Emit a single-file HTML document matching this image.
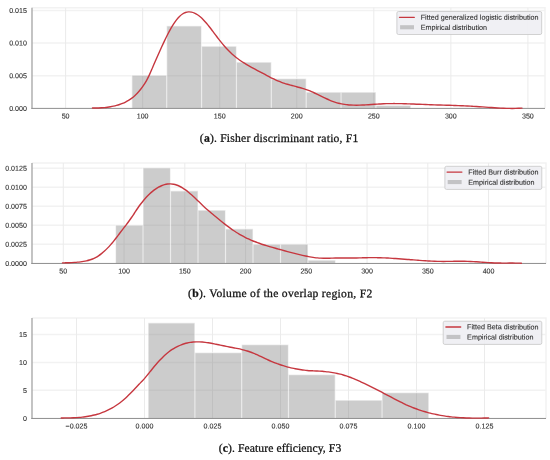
<!DOCTYPE html>
<html lang="en"><head><meta charset="utf-8"><title>Figure</title>
<style>html,body{margin:0;padding:0;background:#fff}body{width:550px;height:460px;overflow:hidden}svg{display:block}</style>
</head><body>
<svg width="550" height="460" viewBox="0 0 550 460" text-rendering="geometricPrecision">
<rect width="550" height="460" fill="#fff"/>
<path d="M31.90 10.50H545.00M31.90 43.05H545.00M31.90 75.65H545.00M31.90 7.80H545.00V108.35" stroke="#f2f2f2" stroke-width="1.5" fill="none"/>
<path d="M65.60 7.80V108.35M142.65 7.80V108.35M219.70 7.80V108.35M296.75 7.80V108.35M373.80 7.80V108.35M450.85 7.80V108.35M527.90 7.80V108.35" stroke="#ebebeb" stroke-width="1.0" fill="none"/>
<rect x="131.83" y="75.20" width="34.87" height="33.15" fill="#808080" fill-opacity="0.4"/>
<rect x="166.70" y="25.90" width="34.87" height="82.45" fill="#808080" fill-opacity="0.4"/>
<rect x="201.57" y="46.20" width="34.87" height="62.15" fill="#808080" fill-opacity="0.4"/>
<rect x="236.44" y="62.10" width="34.87" height="46.25" fill="#808080" fill-opacity="0.4"/>
<rect x="271.31" y="78.60" width="34.87" height="29.75" fill="#808080" fill-opacity="0.4"/>
<rect x="306.18" y="92.10" width="34.87" height="16.25" fill="#808080" fill-opacity="0.4"/>
<rect x="341.05" y="92.10" width="34.87" height="16.25" fill="#808080" fill-opacity="0.4"/>
<rect x="375.92" y="105.35" width="34.87" height="3.00" fill="#808080" fill-opacity="0.4"/>
<path d="M131.83 108.35V75.20h34.87V108.35M166.70 108.35V25.90h34.87V108.35M201.57 108.35V46.20h34.87V108.35M236.44 108.35V62.10h34.87V108.35M271.31 108.35V78.60h34.87V108.35M306.18 108.35V92.10h34.87V108.35M341.05 108.35V92.10h34.87V108.35M375.92 108.35V105.35h34.87V108.35" stroke="#fff" stroke-opacity="0.58" stroke-width="1.2" fill="none"/>
<path d="M32.00 7.80V108.85" stroke="#a4a4a4" stroke-width="1.3" fill="none"/>
<path d="M31.35 108.40H545.00" stroke="#8e8e8e" stroke-width="1.0" fill="none"/>
<path d="M92.50 108.02C93.00 108.01 94.50 108.02 95.50 108.01C96.50 108.00 97.50 107.98 98.50 107.95C99.50 107.92 100.50 107.87 101.50 107.81C102.50 107.75 103.50 107.68 104.50 107.58C105.50 107.49 106.50 107.38 107.50 107.25C108.50 107.11 109.50 106.96 110.50 106.79C111.50 106.61 112.50 106.41 113.50 106.19C114.50 105.96 115.50 105.71 116.50 105.43C117.50 105.15 118.50 104.85 119.50 104.50C120.50 104.16 121.50 103.80 122.50 103.39C123.50 102.97 124.50 102.53 125.50 102.03C126.50 101.52 127.50 100.98 128.50 100.37C129.50 99.75 130.50 99.09 131.50 98.35C132.50 97.60 133.50 96.80 134.50 95.91C135.50 95.02 136.50 94.05 137.50 92.99C138.50 91.93 139.50 90.79 140.50 89.54C141.50 88.28 142.50 86.95 143.50 85.45C144.50 83.95 145.50 82.35 146.50 80.56C147.50 78.76 148.50 76.80 149.50 74.66C150.50 72.52 151.50 70.05 152.50 67.72C153.50 65.39 154.50 62.99 155.50 60.69C156.50 58.39 157.50 56.15 158.50 53.92C159.50 51.69 160.50 49.48 161.50 47.31C162.50 45.13 163.50 42.97 164.50 40.88C165.50 38.79 166.50 36.73 167.50 34.77C168.50 32.82 169.50 30.92 170.50 29.15C171.50 27.38 172.50 25.69 173.50 24.15C174.50 22.60 175.50 21.16 176.50 19.88C177.50 18.60 178.50 17.45 179.50 16.48C180.50 15.50 181.50 14.69 182.50 14.03C183.50 13.37 184.50 12.88 185.50 12.53C186.50 12.18 187.50 11.98 188.50 11.91C189.50 11.85 190.50 11.92 191.50 12.12C192.50 12.32 193.50 12.65 194.50 13.09C195.50 13.53 196.50 14.10 197.50 14.76C198.50 15.42 199.50 16.21 200.50 17.07C201.50 17.94 202.50 18.92 203.50 19.96C204.50 21.00 205.50 22.14 206.50 23.31C207.50 24.48 208.50 25.73 209.50 27.00C210.50 28.27 211.50 29.59 212.50 30.90C213.50 32.22 214.50 33.57 215.50 34.90C216.50 36.22 217.50 37.56 218.50 38.85C219.50 40.14 220.50 41.42 221.50 42.64C222.50 43.87 223.50 45.05 224.50 46.20C225.50 47.34 226.50 48.45 227.50 49.51C228.50 50.57 229.50 51.58 230.50 52.55C231.50 53.52 232.50 54.44 233.50 55.31C234.50 56.18 235.50 57.00 236.50 57.78C237.50 58.56 238.50 59.28 239.50 59.98C240.50 60.67 241.50 61.33 242.50 61.97C243.50 62.61 244.50 63.21 245.50 63.82C246.50 64.42 247.50 65.00 248.50 65.58C249.50 66.15 250.50 66.71 251.50 67.27C252.50 67.82 253.50 68.37 254.50 68.91C255.50 69.45 256.50 69.98 257.50 70.51C258.50 71.05 259.50 71.57 260.50 72.10C261.50 72.63 262.50 73.15 263.50 73.68C264.50 74.21 265.50 74.75 266.50 75.28C267.50 75.81 268.50 76.35 269.50 76.87C270.50 77.39 271.50 77.92 272.50 78.42C273.50 78.92 274.50 79.42 275.50 79.88C276.50 80.35 277.50 80.80 278.50 81.22C279.50 81.64 280.50 82.03 281.50 82.39C282.50 82.76 283.50 83.08 284.50 83.40C285.50 83.71 286.50 84.00 287.50 84.29C288.50 84.57 289.50 84.84 290.50 85.11C291.50 85.38 292.50 85.64 293.50 85.91C294.50 86.17 295.50 86.44 296.50 86.71C297.50 86.98 298.50 87.25 299.50 87.54C300.50 87.83 301.50 88.12 302.50 88.43C303.50 88.74 304.50 89.05 305.50 89.40C306.50 89.74 307.50 90.09 308.50 90.47C309.50 90.85 310.50 91.25 311.50 91.68C312.50 92.10 313.50 92.55 314.50 93.01C315.50 93.47 316.50 93.94 317.50 94.42C318.50 94.90 319.50 95.39 320.50 95.88C321.50 96.37 322.50 96.86 323.50 97.34C324.50 97.82 325.50 98.30 326.50 98.75C327.50 99.21 328.50 99.67 329.50 100.09C330.50 100.52 331.50 100.93 332.50 101.30C333.50 101.68 334.50 102.03 335.50 102.35C336.50 102.67 337.50 102.95 338.50 103.21C339.50 103.47 340.50 103.69 341.50 103.89C342.50 104.09 343.50 104.26 344.50 104.41C345.50 104.55 346.50 104.68 347.50 104.78C348.50 104.88 349.50 104.96 350.50 105.02C351.50 105.09 352.50 105.13 353.50 105.16C354.50 105.19 355.50 105.20 356.50 105.20C357.50 105.20 358.50 105.19 359.50 105.17C360.50 105.14 361.50 105.11 362.50 105.07C363.50 105.03 364.50 104.97 365.50 104.92C366.50 104.86 367.50 104.80 368.50 104.73C369.50 104.67 370.50 104.60 371.50 104.53C372.50 104.46 373.50 104.39 374.50 104.32C375.50 104.25 376.50 104.18 377.50 104.11C378.50 104.05 379.50 103.99 380.50 103.93C381.50 103.87 382.50 103.82 383.50 103.78C384.50 103.74 385.50 103.70 386.50 103.67C387.50 103.65 388.50 103.62 389.50 103.61C390.50 103.59 391.50 103.58 392.50 103.58C393.50 103.57 394.50 103.57 395.50 103.58C396.50 103.58 397.50 103.59 398.50 103.61C399.50 103.62 400.50 103.64 401.50 103.66C402.50 103.68 403.50 103.71 404.50 103.74C405.50 103.77 406.50 103.80 407.50 103.83C408.50 103.86 409.50 103.90 410.50 103.94C411.50 103.97 412.50 104.01 413.50 104.05C414.50 104.09 415.50 104.13 416.50 104.18C417.50 104.22 418.50 104.26 419.50 104.30C420.50 104.34 421.50 104.38 422.50 104.42C423.50 104.46 424.50 104.50 425.50 104.54C426.50 104.58 427.50 104.62 428.50 104.65C429.50 104.69 430.50 104.72 431.50 104.76C432.50 104.79 433.50 104.82 434.50 104.85C435.50 104.89 436.50 104.92 437.50 104.95C438.50 104.98 439.50 105.01 440.50 105.04C441.50 105.07 442.50 105.10 443.50 105.13C444.50 105.17 445.50 105.20 446.50 105.23C447.50 105.26 448.50 105.29 449.50 105.32C450.50 105.36 451.50 105.39 452.50 105.42C453.50 105.46 454.50 105.49 455.50 105.53C456.50 105.56 457.50 105.60 458.50 105.64C459.50 105.67 460.50 105.71 461.50 105.75C462.50 105.79 463.50 105.84 464.50 105.88C465.50 105.92 466.50 105.97 467.50 106.02C468.50 106.07 469.50 106.12 470.50 106.17C471.50 106.22 472.50 106.28 473.50 106.33C474.50 106.39 475.50 106.45 476.50 106.51C477.50 106.57 478.50 106.64 479.50 106.71C480.50 106.77 481.50 106.84 482.50 106.92C483.50 106.99 484.50 107.06 485.50 107.13C486.50 107.21 487.50 107.28 488.50 107.35C489.50 107.42 490.50 107.50 491.50 107.57C492.50 107.64 493.50 107.71 494.50 107.77C495.50 107.84 496.50 107.90 497.50 107.96C498.50 108.02 499.50 108.07 500.50 108.12C501.50 108.17 502.50 108.22 503.50 108.26C504.50 108.30 505.50 108.33 506.50 108.36C507.50 108.39 508.50 108.41 509.50 108.42C510.50 108.43 511.50 108.44 512.50 108.43C513.50 108.43 514.50 108.41 515.50 108.39C516.50 108.37 517.50 108.33 518.50 108.29C519.50 108.24 520.92 108.15 521.50 108.12C522.08 108.09 521.92 108.09 522.00 108.09" stroke="#c6373f" stroke-width="1.4" fill="none" stroke-linecap="round" stroke-linejoin="round"/>
<g font-family="'Liberation Sans', Arial, sans-serif" font-size="7.10" fill="#2e2e2e" stroke="#2e2e2e" stroke-width="0.1">
<text x="26.9" y="13.05" transform="rotate(0.05 26.9 13.05)" text-anchor="end">0.015</text>
<text x="26.9" y="45.60" transform="rotate(0.05 26.9 45.60)" text-anchor="end">0.010</text>
<text x="26.9" y="78.20" transform="rotate(0.05 26.9 78.20)" text-anchor="end">0.005</text>
<text x="26.9" y="110.90" transform="rotate(0.05 26.9 110.90)" text-anchor="end">0.000</text>
<text x="65.60" y="118.50" transform="rotate(0.05 65.60 118.50)" text-anchor="middle">50</text>
<text x="142.65" y="118.50" transform="rotate(0.05 142.65 118.50)" text-anchor="middle">100</text>
<text x="219.70" y="118.50" transform="rotate(0.05 219.70 118.50)" text-anchor="middle">150</text>
<text x="296.75" y="118.50" transform="rotate(0.05 296.75 118.50)" text-anchor="middle">200</text>
<text x="373.80" y="118.50" transform="rotate(0.05 373.80 118.50)" text-anchor="middle">250</text>
<text x="450.85" y="118.50" transform="rotate(0.05 450.85 118.50)" text-anchor="middle">300</text>
<text x="527.90" y="118.50" transform="rotate(0.05 527.90 118.50)" text-anchor="middle">350</text>
</g>
<rect x="396.90" y="11.50" width="144.80" height="23.00" rx="1.6" fill="#eeeef3" fill-opacity="0.9" stroke="#cccccc" stroke-width="0.9"/>
<path d="M399.50 17.30h14.8" stroke="#c6373f" stroke-width="1.35" stroke-linecap="round"/>
<rect x="400.10" y="25.20" width="13.9" height="4.1" fill="#808080" fill-opacity="0.4"/>
<g font-family="'Liberation Sans', Arial, sans-serif" font-size="7.2" fill="#2e2e2e" stroke="#2e2e2e" stroke-width="0.1">
<text x="420.70" y="19.70" transform="rotate(0.05 480.70 19.70)">Fitted generalized logistic distribution</text>
<text x="420.70" y="29.90" transform="rotate(0.05 453.70 29.90)">Empirical distribution</text>
</g>
<text id="capa" x="279.05" y="141.90" text-anchor="middle" transform="rotate(0.04 279.05 141.90)" font-family="'Liberation Serif', 'Times New Roman', serif" font-size="11.6" fill="#141414" stroke="#141414" stroke-width="0.28" textLength="158.50" lengthAdjust="spacing">(<tspan font-weight="bold">a</tspan>). Fisher discriminant ratio, F1</text>
<path d="M31.90 168.25H546.00M31.90 187.25H546.00M31.90 206.25H546.00M31.90 225.25H546.00M31.90 244.25H546.00M31.90 163.00H546.00V263.40" stroke="#f2f2f2" stroke-width="1.5" fill="none"/>
<path d="M63.30 163.00V263.40M124.05 163.00V263.40M184.80 163.00V263.40M245.55 163.00V263.40M306.30 163.00V263.40M367.05 163.00V263.40M427.80 163.00V263.40M488.55 163.00V263.40" stroke="#ebebeb" stroke-width="1.0" fill="none"/>
<rect x="115.51" y="225.10" width="27.50" height="38.30" fill="#808080" fill-opacity="0.4"/>
<rect x="143.01" y="167.85" width="27.50" height="95.55" fill="#808080" fill-opacity="0.4"/>
<rect x="170.51" y="190.85" width="27.50" height="72.55" fill="#808080" fill-opacity="0.4"/>
<rect x="198.01" y="210.10" width="27.50" height="53.30" fill="#808080" fill-opacity="0.4"/>
<rect x="225.51" y="228.85" width="27.50" height="34.55" fill="#808080" fill-opacity="0.4"/>
<rect x="253.01" y="244.10" width="27.50" height="19.30" fill="#808080" fill-opacity="0.4"/>
<rect x="280.51" y="244.10" width="27.50" height="19.30" fill="#808080" fill-opacity="0.4"/>
<rect x="308.01" y="260.10" width="27.50" height="3.30" fill="#808080" fill-opacity="0.4"/>
<path d="M115.51 263.40V225.10h27.50V263.40M143.01 263.40V167.85h27.50V263.40M170.51 263.40V190.85h27.50V263.40M198.01 263.40V210.10h27.50V263.40M225.51 263.40V228.85h27.50V263.40M253.01 263.40V244.10h27.50V263.40M280.51 263.40V244.10h27.50V263.40M308.01 263.40V260.10h27.50V263.40" stroke="#fff" stroke-opacity="0.58" stroke-width="1.2" fill="none"/>
<path d="M32.00 163.00V263.90" stroke="#a4a4a4" stroke-width="1.3" fill="none"/>
<path d="M31.35 263.45H546.00" stroke="#8e8e8e" stroke-width="1.0" fill="none"/>
<path d="M62.50 262.91C63.00 262.90 64.50 262.85 65.50 262.82C66.50 262.78 67.50 262.76 68.50 262.72C69.50 262.68 70.50 262.64 71.50 262.59C72.50 262.54 73.50 262.49 74.50 262.42C75.50 262.35 76.50 262.27 77.50 262.17C78.50 262.08 79.50 261.97 80.50 261.84C81.50 261.71 82.50 261.56 83.50 261.39C84.50 261.22 85.50 261.03 86.50 260.81C87.50 260.58 88.50 260.34 89.50 260.03C90.50 259.73 91.50 259.40 92.50 258.99C93.50 258.58 94.50 258.13 95.50 257.60C96.50 257.06 97.50 256.46 98.50 255.80C99.50 255.13 100.50 254.40 101.50 253.61C102.50 252.81 103.50 251.96 104.50 251.04C105.50 250.13 106.50 249.16 107.50 248.13C108.50 247.10 109.50 246.02 110.50 244.89C111.50 243.76 112.50 242.57 113.50 241.34C114.50 240.11 115.50 238.82 116.50 237.52C117.50 236.22 118.50 234.86 119.50 233.54C120.50 232.23 121.50 230.93 122.50 229.63C123.50 228.33 124.50 227.06 125.50 225.76C126.50 224.45 127.50 223.15 128.50 221.77C129.50 220.40 130.50 218.97 131.50 217.51C132.50 216.05 133.50 214.51 134.50 213.01C135.50 211.51 136.50 209.98 137.50 208.52C138.50 207.06 139.50 205.62 140.50 204.28C141.50 202.93 142.50 201.66 143.50 200.45C144.50 199.25 145.50 198.12 146.50 197.05C147.50 195.98 148.50 194.98 149.50 194.04C150.50 193.09 151.50 192.21 152.50 191.39C153.50 190.57 154.50 189.81 155.50 189.11C156.50 188.42 157.50 187.79 158.50 187.22C159.50 186.66 160.50 186.17 161.50 185.74C162.50 185.32 163.50 184.96 164.50 184.68C165.50 184.40 166.50 184.19 167.50 184.06C168.50 183.93 169.50 183.87 170.50 183.89C171.50 183.91 172.50 184.01 173.50 184.19C174.50 184.38 175.50 184.64 176.50 184.99C177.50 185.33 178.50 185.76 179.50 186.25C180.50 186.73 181.50 187.30 182.50 187.92C183.50 188.53 184.50 189.22 185.50 189.94C186.50 190.66 187.50 191.44 188.50 192.26C189.50 193.07 190.50 193.93 191.50 194.81C192.50 195.69 193.50 196.61 194.50 197.54C195.50 198.48 196.50 199.44 197.50 200.40C198.50 201.36 199.50 202.34 200.50 203.30C201.50 204.26 202.50 205.22 203.50 206.16C204.50 207.09 205.50 208.01 206.50 208.91C207.50 209.80 208.50 210.66 209.50 211.52C210.50 212.38 211.50 213.21 212.50 214.05C213.50 214.89 214.50 215.71 215.50 216.54C216.50 217.36 217.50 218.19 218.50 219.01C219.50 219.83 220.50 220.65 221.50 221.46C222.50 222.27 223.50 223.07 224.50 223.85C225.50 224.64 226.50 225.42 227.50 226.18C228.50 226.93 229.50 227.68 230.50 228.40C231.50 229.12 232.50 229.83 233.50 230.51C234.50 231.18 235.50 231.84 236.50 232.47C237.50 233.10 238.50 233.70 239.50 234.29C240.50 234.87 241.50 235.43 242.50 235.97C243.50 236.51 244.50 237.02 245.50 237.52C246.50 238.02 247.50 238.49 248.50 238.95C249.50 239.41 250.50 239.85 251.50 240.28C252.50 240.71 253.50 241.12 254.50 241.51C255.50 241.91 256.50 242.29 257.50 242.66C258.50 243.02 259.50 243.38 260.50 243.72C261.50 244.07 262.50 244.40 263.50 244.73C264.50 245.05 265.50 245.37 266.50 245.67C267.50 245.98 268.50 246.28 269.50 246.58C270.50 246.87 271.50 247.16 272.50 247.44C273.50 247.73 274.50 248.01 275.50 248.29C276.50 248.57 277.50 248.84 278.50 249.12C279.50 249.39 280.50 249.67 281.50 249.94C282.50 250.22 283.50 250.49 284.50 250.76C285.50 251.04 286.50 251.31 287.50 251.58C288.50 251.85 289.50 252.12 290.50 252.38C291.50 252.65 292.50 252.91 293.50 253.17C294.50 253.43 295.50 253.69 296.50 253.94C297.50 254.19 298.50 254.43 299.50 254.67C300.50 254.91 301.50 255.15 302.50 255.38C303.50 255.60 304.50 255.82 305.50 256.03C306.50 256.24 307.50 256.44 308.50 256.63C309.50 256.82 310.50 256.99 311.50 257.15C312.50 257.31 313.50 257.46 314.50 257.59C315.50 257.72 316.50 257.83 317.50 257.92C318.50 258.01 319.50 258.09 320.50 258.14C321.50 258.19 322.50 258.22 323.50 258.24C324.50 258.26 325.50 258.25 326.50 258.25C327.50 258.24 328.50 258.22 329.50 258.19C330.50 258.17 331.50 258.13 332.50 258.10C333.50 258.07 334.50 258.04 335.50 258.01C336.50 257.99 337.50 257.96 338.50 257.95C339.50 257.94 340.50 257.94 341.50 257.94C342.50 257.95 343.50 257.97 344.50 257.99C345.50 258.00 346.50 258.03 347.50 258.04C348.50 258.06 349.50 258.07 350.50 258.07C351.50 258.08 352.50 258.07 353.50 258.06C354.50 258.04 355.50 258.02 356.50 258.00C357.50 257.97 358.50 257.94 359.50 257.91C360.50 257.89 361.50 257.85 362.50 257.82C363.50 257.79 364.50 257.76 365.50 257.73C366.50 257.71 367.50 257.68 368.50 257.66C369.50 257.65 370.50 257.63 371.50 257.63C372.50 257.62 373.50 257.63 374.50 257.63C375.50 257.64 376.50 257.66 377.50 257.68C378.50 257.70 379.50 257.72 380.50 257.75C381.50 257.78 382.50 257.82 383.50 257.86C384.50 257.90 385.50 257.95 386.50 257.99C387.50 258.04 388.50 258.10 389.50 258.15C390.50 258.21 391.50 258.27 392.50 258.33C393.50 258.40 394.50 258.46 395.50 258.53C396.50 258.60 397.50 258.67 398.50 258.75C399.50 258.82 400.50 258.89 401.50 258.97C402.50 259.05 403.50 259.13 404.50 259.20C405.50 259.28 406.50 259.36 407.50 259.44C408.50 259.52 409.50 259.60 410.50 259.68C411.50 259.76 412.50 259.84 413.50 259.92C414.50 260.00 415.50 260.08 416.50 260.16C417.50 260.24 418.50 260.31 419.50 260.39C420.50 260.46 421.50 260.53 422.50 260.60C423.50 260.67 424.50 260.74 425.50 260.80C426.50 260.86 427.50 260.92 428.50 260.98C429.50 261.03 430.50 261.09 431.50 261.13C432.50 261.18 433.50 261.22 434.50 261.26C435.50 261.30 436.50 261.33 437.50 261.35C438.50 261.38 439.50 261.40 440.50 261.41C441.50 261.43 442.50 261.43 443.50 261.43C444.50 261.43 445.50 261.43 446.50 261.42C447.50 261.41 448.50 261.40 449.50 261.39C450.50 261.37 451.50 261.36 452.50 261.34C453.50 261.33 454.50 261.31 455.50 261.30C456.50 261.28 457.50 261.27 458.50 261.26C459.50 261.25 460.50 261.25 461.50 261.25C462.50 261.25 463.50 261.25 464.50 261.27C465.50 261.28 466.50 261.30 467.50 261.33C468.50 261.35 469.50 261.39 470.50 261.43C471.50 261.48 472.50 261.53 473.50 261.59C474.50 261.64 475.50 261.71 476.50 261.77C477.50 261.84 478.50 261.91 479.50 261.98C480.50 262.05 481.50 262.13 482.50 262.20C483.50 262.27 484.50 262.34 485.50 262.41C486.50 262.48 487.50 262.55 488.50 262.61C489.50 262.68 490.50 262.74 491.50 262.79C492.50 262.84 493.50 262.89 494.50 262.93C495.50 262.97 496.50 263.00 497.50 263.02C498.50 263.04 499.50 263.06 500.50 263.07C501.50 263.08 502.50 263.08 503.50 263.09C504.50 263.09 505.50 263.09 506.50 263.08C507.50 263.08 508.50 263.08 509.50 263.07C510.50 263.07 511.50 263.07 512.50 263.07C513.50 263.07 514.50 263.07 515.50 263.08C516.50 263.09 517.52 263.10 518.50 263.12C519.48 263.14 520.92 263.19 521.40 263.20" stroke="#c6373f" stroke-width="1.4" fill="none" stroke-linecap="round" stroke-linejoin="round"/>
<g font-family="'Liberation Sans', Arial, sans-serif" font-size="7.10" fill="#2e2e2e" stroke="#2e2e2e" stroke-width="0.1">
<text x="26.9" y="170.80" transform="rotate(0.05 26.9 170.80)" text-anchor="end">0.0125</text>
<text x="26.9" y="189.80" transform="rotate(0.05 26.9 189.80)" text-anchor="end">0.0100</text>
<text x="26.9" y="208.80" transform="rotate(0.05 26.9 208.80)" text-anchor="end">0.0075</text>
<text x="26.9" y="227.80" transform="rotate(0.05 26.9 227.80)" text-anchor="end">0.0050</text>
<text x="26.9" y="246.80" transform="rotate(0.05 26.9 246.80)" text-anchor="end">0.0025</text>
<text x="26.9" y="265.95" transform="rotate(0.05 26.9 265.95)" text-anchor="end">0.0000</text>
<text x="63.30" y="273.55" transform="rotate(0.05 63.30 273.55)" text-anchor="middle">50</text>
<text x="124.05" y="273.55" transform="rotate(0.05 124.05 273.55)" text-anchor="middle">100</text>
<text x="184.80" y="273.55" transform="rotate(0.05 184.80 273.55)" text-anchor="middle">150</text>
<text x="245.55" y="273.55" transform="rotate(0.05 245.55 273.55)" text-anchor="middle">200</text>
<text x="306.30" y="273.55" transform="rotate(0.05 306.30 273.55)" text-anchor="middle">250</text>
<text x="367.05" y="273.55" transform="rotate(0.05 367.05 273.55)" text-anchor="middle">300</text>
<text x="427.80" y="273.55" transform="rotate(0.05 427.80 273.55)" text-anchor="middle">350</text>
<text x="488.55" y="273.55" transform="rotate(0.05 488.55 273.55)" text-anchor="middle">400</text>
</g>
<rect x="444.90" y="166.30" width="96.90" height="23.10" rx="1.6" fill="#eeeef3" fill-opacity="0.9" stroke="#cccccc" stroke-width="0.9"/>
<path d="M447.10 172.10h14.8" stroke="#c6373f" stroke-width="1.35" stroke-linecap="round"/>
<rect x="447.70" y="180.00" width="13.9" height="4.1" fill="#808080" fill-opacity="0.4"/>
<g font-family="'Liberation Sans', Arial, sans-serif" font-size="7.2" fill="#2e2e2e" stroke="#2e2e2e" stroke-width="0.1">
<text x="468.30" y="174.50" transform="rotate(0.05 528.30 174.50)">Fitted Burr distribution</text>
<text x="468.30" y="184.70" transform="rotate(0.05 501.30 184.70)">Empirical distribution</text>
</g>
<text id="capb" x="280.10" y="297.10" text-anchor="middle" transform="rotate(0.04 280.10 297.10)" font-family="'Liberation Serif', 'Times New Roman', serif" font-size="11.6" fill="#141414" stroke="#141414" stroke-width="0.28" textLength="184.20" lengthAdjust="spacing">(<tspan font-weight="bold">b</tspan>). Volume of the overlap region, F2</text>
<path d="M31.90 334.50H546.00M31.90 362.45H546.00M31.90 390.35H546.00M31.90 318.00H546.00V418.40" stroke="#f2f2f2" stroke-width="1.5" fill="none"/>
<path d="M76.50 318.00V418.40M144.50 318.00V418.40M212.50 318.00V418.40M280.50 318.00V418.40M348.50 318.00V418.40M416.50 318.00V418.40M484.50 318.00V418.40" stroke="#ebebeb" stroke-width="1.0" fill="none"/>
<rect x="148.10" y="322.85" width="46.79" height="95.55" fill="#808080" fill-opacity="0.4"/>
<rect x="194.89" y="352.60" width="46.79" height="65.80" fill="#808080" fill-opacity="0.4"/>
<rect x="241.68" y="344.60" width="46.79" height="73.80" fill="#808080" fill-opacity="0.4"/>
<rect x="288.47" y="374.60" width="46.79" height="43.80" fill="#808080" fill-opacity="0.4"/>
<rect x="335.26" y="400.10" width="46.79" height="18.30" fill="#808080" fill-opacity="0.4"/>
<rect x="382.05" y="392.60" width="46.79" height="25.80" fill="#808080" fill-opacity="0.4"/>
<path d="M148.10 418.40V322.85h46.79V418.40M194.89 418.40V352.60h46.79V418.40M241.68 418.40V344.60h46.79V418.40M288.47 418.40V374.60h46.79V418.40M335.26 418.40V400.10h46.79V418.40M382.05 418.40V392.60h46.79V418.40" stroke="#fff" stroke-opacity="0.58" stroke-width="1.2" fill="none"/>
<path d="M32.00 318.00V418.90" stroke="#a4a4a4" stroke-width="1.3" fill="none"/>
<path d="M31.35 418.45H546.00" stroke="#8e8e8e" stroke-width="1.0" fill="none"/>
<path d="M61.25 417.95C61.75 417.94 63.25 417.93 64.25 417.92C65.25 417.91 66.25 417.90 67.25 417.89C68.25 417.87 69.25 417.85 70.25 417.83C71.25 417.80 72.25 417.77 73.25 417.73C74.25 417.69 75.25 417.64 76.25 417.59C77.25 417.53 78.25 417.46 79.25 417.38C80.25 417.30 81.25 417.21 82.25 417.10C83.25 417.00 84.25 416.88 85.25 416.74C86.25 416.61 87.25 416.46 88.25 416.29C89.25 416.12 90.25 415.93 91.25 415.73C92.25 415.52 93.25 415.30 94.25 415.05C95.25 414.80 96.25 414.53 97.25 414.24C98.25 413.94 99.25 413.63 100.25 413.29C101.25 412.94 102.25 412.58 103.25 412.18C104.25 411.78 105.25 411.36 106.25 410.91C107.25 410.46 108.25 409.98 109.25 409.46C110.25 408.95 111.25 408.41 112.25 407.83C113.25 407.25 114.25 406.64 115.25 405.99C116.25 405.35 117.25 404.67 118.25 403.95C119.25 403.23 120.25 402.47 121.25 401.68C122.25 400.88 123.25 400.05 124.25 399.17C125.25 398.29 126.25 397.37 127.25 396.42C128.25 395.47 129.25 394.48 130.25 393.47C131.25 392.47 132.25 391.43 133.25 390.39C134.25 389.35 135.25 388.28 136.25 387.23C137.25 386.17 138.25 385.11 139.25 384.06C140.25 383.01 141.25 381.99 142.25 380.92C143.25 379.85 144.25 378.78 145.25 377.62C146.25 376.46 147.25 375.21 148.25 373.98C149.25 372.75 150.25 371.47 151.25 370.23C152.25 369.00 153.25 367.76 154.25 366.56C155.25 365.37 156.25 364.18 157.25 363.04C158.25 361.90 159.25 360.79 160.25 359.72C161.25 358.66 162.25 357.63 163.25 356.66C164.25 355.69 165.25 354.77 166.25 353.91C167.25 353.05 168.25 352.25 169.25 351.50C170.25 350.74 171.25 350.05 172.25 349.40C173.25 348.75 174.25 348.15 175.25 347.59C176.25 347.04 177.25 346.53 178.25 346.06C179.25 345.60 180.25 345.18 181.25 344.79C182.25 344.41 183.25 344.07 184.25 343.77C185.25 343.47 186.25 343.20 187.25 342.98C188.25 342.75 189.25 342.56 190.25 342.40C191.25 342.25 192.25 342.13 193.25 342.03C194.25 341.94 195.25 341.89 196.25 341.86C197.25 341.83 198.25 341.83 199.25 341.86C200.25 341.89 201.25 341.95 202.25 342.03C203.25 342.10 204.25 342.21 205.25 342.33C206.25 342.46 207.25 342.60 208.25 342.76C209.25 342.92 210.25 343.09 211.25 343.28C212.25 343.46 213.25 343.66 214.25 343.86C215.25 344.06 216.25 344.28 217.25 344.49C218.25 344.70 219.25 344.92 220.25 345.13C221.25 345.35 222.25 345.56 223.25 345.77C224.25 345.98 225.25 346.18 226.25 346.37C227.25 346.57 228.25 346.76 229.25 346.94C230.25 347.13 231.25 347.31 232.25 347.50C233.25 347.69 234.25 347.87 235.25 348.07C236.25 348.27 237.25 348.47 238.25 348.68C239.25 348.89 240.25 349.11 241.25 349.35C242.25 349.59 243.25 349.84 244.25 350.11C245.25 350.38 246.25 350.67 247.25 350.98C248.25 351.30 249.25 351.63 250.25 351.99C251.25 352.35 252.25 352.74 253.25 353.15C254.25 353.56 255.25 353.99 256.25 354.43C257.25 354.87 258.25 355.33 259.25 355.79C260.25 356.25 261.25 356.73 262.25 357.20C263.25 357.67 264.25 358.15 265.25 358.61C266.25 359.08 267.25 359.55 268.25 360.00C269.25 360.45 270.25 360.89 271.25 361.31C272.25 361.74 273.25 362.14 274.25 362.54C275.25 362.93 276.25 363.31 277.25 363.68C278.25 364.04 279.25 364.39 280.25 364.73C281.25 365.06 282.25 365.38 283.25 365.69C284.25 366.00 285.25 366.29 286.25 366.57C287.25 366.85 288.25 367.12 289.25 367.37C290.25 367.62 291.25 367.86 292.25 368.08C293.25 368.31 294.25 368.52 295.25 368.71C296.25 368.91 297.25 369.10 298.25 369.27C299.25 369.44 300.25 369.60 301.25 369.74C302.25 369.89 303.25 370.02 304.25 370.13C305.25 370.25 306.25 370.36 307.25 370.45C308.25 370.54 309.25 370.62 310.25 370.68C311.25 370.75 312.25 370.79 313.25 370.84C314.25 370.89 315.25 370.93 316.25 370.97C317.25 371.02 318.25 371.06 319.25 371.12C320.25 371.17 321.25 371.23 322.25 371.31C323.25 371.39 324.25 371.48 325.25 371.58C326.25 371.68 327.25 371.79 328.25 371.92C329.25 372.05 330.25 372.19 331.25 372.35C332.25 372.51 333.25 372.68 334.25 372.86C335.25 373.05 336.25 373.26 337.25 373.48C338.25 373.70 339.25 373.93 340.25 374.19C341.25 374.44 342.25 374.72 343.25 375.01C344.25 375.30 345.25 375.61 346.25 375.94C347.25 376.27 348.25 376.62 349.25 376.98C350.25 377.35 351.25 377.73 352.25 378.13C353.25 378.52 354.25 378.93 355.25 379.35C356.25 379.77 357.25 380.21 358.25 380.65C359.25 381.10 360.25 381.55 361.25 382.02C362.25 382.48 363.25 382.95 364.25 383.42C365.25 383.90 366.25 384.38 367.25 384.87C368.25 385.36 369.25 385.85 370.25 386.34C371.25 386.84 372.25 387.34 373.25 387.84C374.25 388.35 375.25 388.86 376.25 389.37C377.25 389.88 378.25 390.39 379.25 390.91C380.25 391.43 381.25 391.95 382.25 392.47C383.25 393.00 384.25 393.52 385.25 394.05C386.25 394.57 387.25 395.10 388.25 395.63C389.25 396.16 390.25 396.70 391.25 397.23C392.25 397.76 393.25 398.29 394.25 398.82C395.25 399.34 396.25 399.87 397.25 400.39C398.25 400.90 399.25 401.42 400.25 401.92C401.25 402.42 402.25 402.92 403.25 403.40C404.25 403.88 405.25 404.35 406.25 404.81C407.25 405.26 408.25 405.70 409.25 406.13C410.25 406.56 411.25 406.97 412.25 407.37C413.25 407.77 414.25 408.16 415.25 408.53C416.25 408.91 417.25 409.27 418.25 409.61C419.25 409.96 420.25 410.29 421.25 410.61C422.25 410.93 423.25 411.24 424.25 411.54C425.25 411.83 426.25 412.12 427.25 412.39C428.25 412.66 429.25 412.92 430.25 413.17C431.25 413.42 432.25 413.66 433.25 413.88C434.25 414.11 435.25 414.33 436.25 414.53C437.25 414.74 438.25 414.93 439.25 415.11C440.25 415.30 441.25 415.47 442.25 415.64C443.25 415.80 444.25 415.96 445.25 416.10C446.25 416.25 447.25 416.38 448.25 416.51C449.25 416.64 450.25 416.76 451.25 416.87C452.25 416.98 453.25 417.08 454.25 417.17C455.25 417.27 456.25 417.35 457.25 417.43C458.25 417.51 459.25 417.58 460.25 417.64C461.25 417.71 462.25 417.76 463.25 417.81C464.25 417.86 465.25 417.91 466.25 417.94C467.25 417.98 468.25 418.01 469.25 418.04C470.25 418.06 471.25 418.08 472.25 418.09C473.25 418.11 474.25 418.11 475.25 418.12C476.25 418.12 477.25 418.12 478.25 418.11C479.25 418.10 480.25 418.09 481.25 418.08C482.25 418.06 483.25 418.04 484.25 418.02C485.25 418.00 486.52 417.96 487.25 417.94C487.98 417.92 488.38 417.90 488.60 417.89" stroke="#c6373f" stroke-width="1.4" fill="none" stroke-linecap="round" stroke-linejoin="round"/>
<g font-family="'Liberation Sans', Arial, sans-serif" font-size="7.10" fill="#2e2e2e" stroke="#2e2e2e" stroke-width="0.1">
<text x="26.9" y="337.05" transform="rotate(0.05 26.9 337.05)" text-anchor="end">15</text>
<text x="26.9" y="365.00" transform="rotate(0.05 26.9 365.00)" text-anchor="end">10</text>
<text x="26.9" y="392.90" transform="rotate(0.05 26.9 392.90)" text-anchor="end">5</text>
<text x="26.9" y="420.95" transform="rotate(0.05 26.9 420.95)" text-anchor="end">0</text>
<text x="76.50" y="428.55" transform="rotate(0.05 76.50 428.55)" text-anchor="middle">−0.025</text>
<text x="144.50" y="428.55" transform="rotate(0.05 144.50 428.55)" text-anchor="middle">0.000</text>
<text x="212.50" y="428.55" transform="rotate(0.05 212.50 428.55)" text-anchor="middle">0.025</text>
<text x="280.50" y="428.55" transform="rotate(0.05 280.50 428.55)" text-anchor="middle">0.050</text>
<text x="348.50" y="428.55" transform="rotate(0.05 348.50 428.55)" text-anchor="middle">0.075</text>
<text x="416.50" y="428.55" transform="rotate(0.05 416.50 428.55)" text-anchor="middle">0.100</text>
<text x="484.50" y="428.55" transform="rotate(0.05 484.50 428.55)" text-anchor="middle">0.125</text>
</g>
<rect x="443.20" y="321.20" width="98.60" height="23.20" rx="1.6" fill="#eeeef3" fill-opacity="0.9" stroke="#cccccc" stroke-width="0.9"/>
<path d="M445.90 327.00h14.8" stroke="#c6373f" stroke-width="1.35" stroke-linecap="round"/>
<rect x="446.50" y="334.90" width="13.9" height="4.1" fill="#808080" fill-opacity="0.4"/>
<g font-family="'Liberation Sans', Arial, sans-serif" font-size="7.2" fill="#2e2e2e" stroke="#2e2e2e" stroke-width="0.1">
<text x="467.10" y="329.40" transform="rotate(0.05 527.10 329.40)">Fitted Beta distribution</text>
<text x="467.10" y="339.60" transform="rotate(0.05 500.10 339.60)">Empirical distribution</text>
</g>
<text id="capc" x="280.00" y="451.80" text-anchor="middle" transform="rotate(0.04 280.00 451.80)" font-family="'Liberation Serif', 'Times New Roman', serif" font-size="11.6" fill="#141414" stroke="#141414" stroke-width="0.28" textLength="122.40" lengthAdjust="spacing">(<tspan font-weight="bold">c</tspan>). Feature efficiency, F3</text>
</svg>
</body></html>
